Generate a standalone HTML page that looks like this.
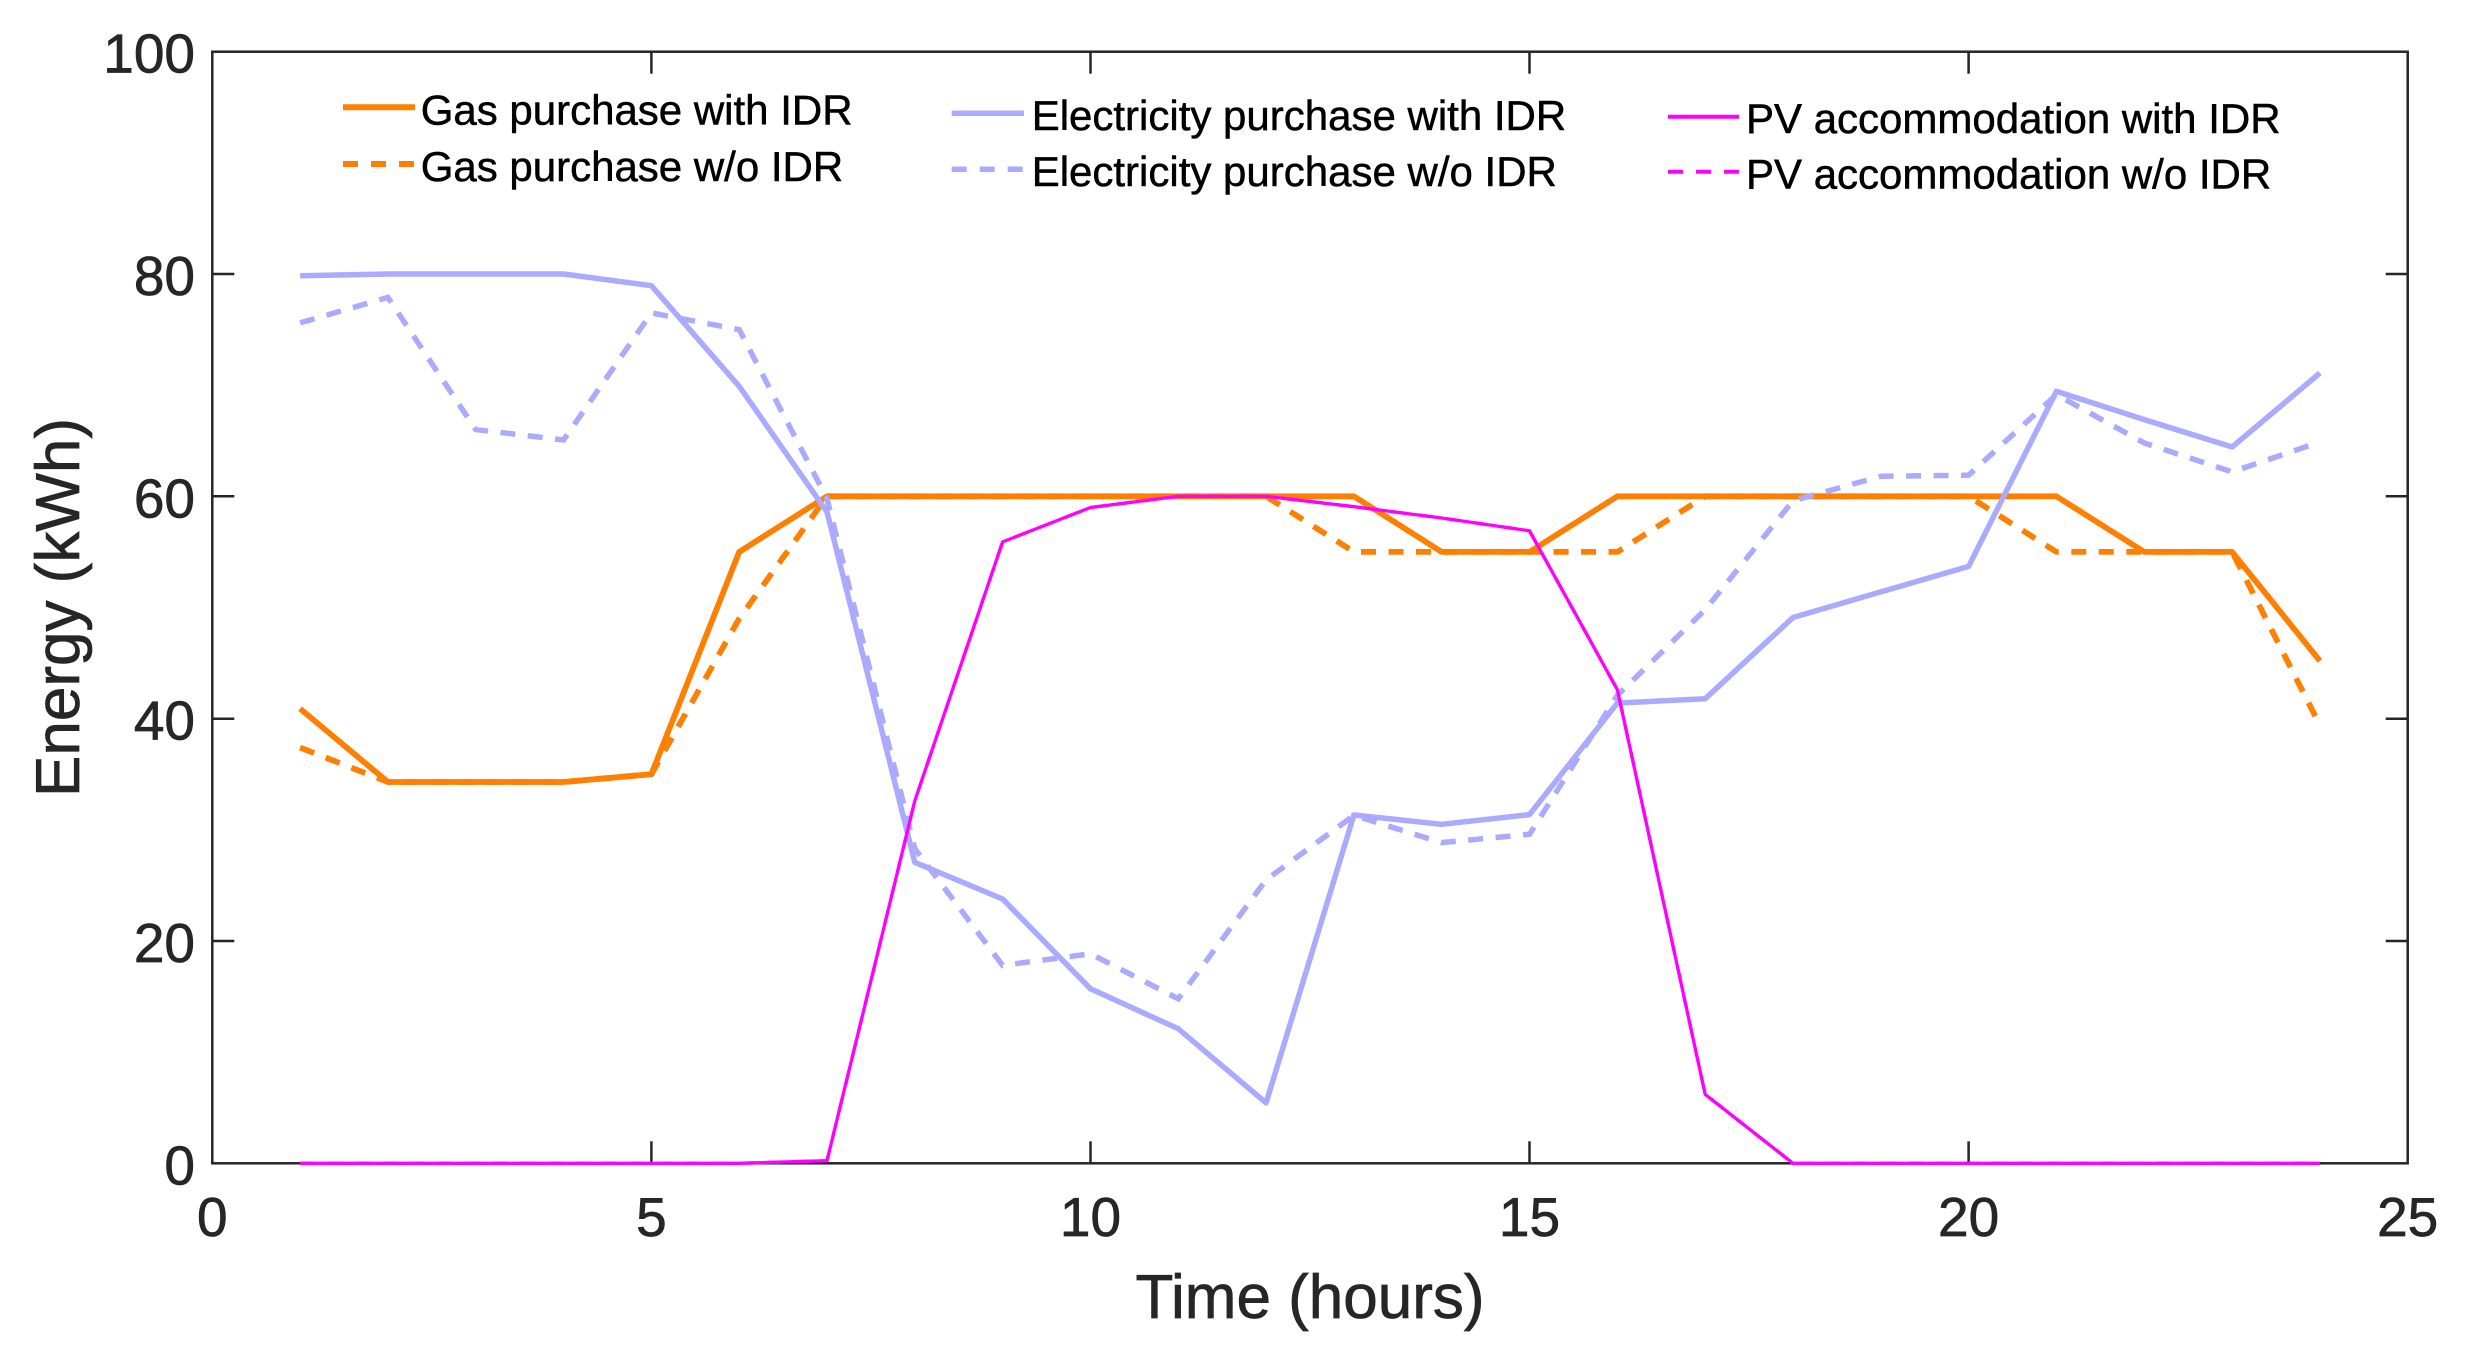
<!DOCTYPE html>
<html>
<head>
<meta charset="utf-8">
<style>
  html, body { margin: 0; padding: 0; background: #ffffff; }
  svg { display: block; }
  text { font-family: "Liberation Sans", Arial, sans-serif; }
</style>
</head>
<body>
<svg width="2467" height="1348" viewBox="0 0 2467 1348" xmlns="http://www.w3.org/2000/svg">
  <rect x="0" y="0" width="2467" height="1348" fill="#ffffff"/>

  <!-- Axes box -->
  <rect x="212.3" y="51.7" width="2195.4" height="1111.6" fill="none" stroke="#262626" stroke-width="2.5"/>

  <!-- Ticks -->
  <g stroke="#262626" stroke-width="2.5">
    <line x1="212.3" y1="941.0" x2="234.3" y2="941.0"/>
    <line x1="212.3" y1="718.7" x2="234.3" y2="718.7"/>
    <line x1="212.3" y1="496.3" x2="234.3" y2="496.3"/>
    <line x1="212.3" y1="274.0" x2="234.3" y2="274.0"/>
    <line x1="2407.7" y1="941.0" x2="2385.7" y2="941.0"/>
    <line x1="2407.7" y1="718.7" x2="2385.7" y2="718.7"/>
    <line x1="2407.7" y1="496.3" x2="2385.7" y2="496.3"/>
    <line x1="2407.7" y1="274.0" x2="2385.7" y2="274.0"/>
    <line x1="651.4" y1="1163.3" x2="651.4" y2="1141.3"/>
    <line x1="1090.5" y1="1163.3" x2="1090.5" y2="1141.3"/>
    <line x1="1529.5" y1="1163.3" x2="1529.5" y2="1141.3"/>
    <line x1="1968.6" y1="1163.3" x2="1968.6" y2="1141.3"/>
    <line x1="651.4" y1="51.7" x2="651.4" y2="73.7"/>
    <line x1="1090.5" y1="51.7" x2="1090.5" y2="73.7"/>
    <line x1="1529.5" y1="51.7" x2="1529.5" y2="73.7"/>
    <line x1="1968.6" y1="51.7" x2="1968.6" y2="73.7"/>
  </g>

  <!-- Y tick labels -->
  <g fill="#262626" stroke="#262626" stroke-width="0.7" font-size="55" text-anchor="end">
    <text x="195" y="1184.3">0</text>
    <text x="195" y="962.0">20</text>
    <text x="195" y="739.7">40</text>
    <text x="195" y="517.3">60</text>
    <text x="195" y="295.0">80</text>
    <text x="195" y="72.7">100</text>
  </g>

  <!-- X tick labels -->
  <g fill="#262626" stroke="#262626" stroke-width="0.7" font-size="55" text-anchor="middle">
    <text x="212.3" y="1236">0</text>
    <text x="651.4" y="1236">5</text>
    <text x="1090.5" y="1236">10</text>
    <text x="1529.5" y="1236">15</text>
    <text x="1968.6" y="1236">20</text>
    <text x="2407.7" y="1236">25</text>
  </g>

  <!-- Axis labels -->
  <text x="1310" y="1318" fill="#262626" stroke="#262626" stroke-width="0.7" font-size="62" text-anchor="middle">Time (hours)</text>
  <text transform="translate(79,607.5) rotate(-90)" fill="#262626" stroke="#262626" stroke-width="0.7" font-size="62" text-anchor="middle">Energy (kWh)</text>

  <!-- Series -->
  <g fill="none" stroke-linejoin="round">
    <polyline stroke="#FF8000" stroke-width="5.8"
      points="300.1,708.7 387.9,782.0 475.8,782.0 563.6,782.0 651.4,774.2 739.2,551.9 827.0,496.3 914.8,496.3 1002.6,496.3 1090.5,496.3 1178.3,496.3 1266.1,496.3 1353.9,496.3 1441.7,551.9 1529.5,551.9 1617.4,496.3 1705.2,496.3 1793.0,496.3 1880.8,496.3 1968.6,496.3 2056.4,496.3 2144.3,551.9 2232.1,551.9 2319.9,660.9"/>
    <polyline stroke="#FF8000" stroke-width="5.8" stroke-dasharray="15 12.5" stroke-linecap="butt" stroke-linejoin="miter"
      points="300.1,747.6 387.9,782.0 475.8,782.0 563.6,782.0 651.4,774.2 739.2,618.6 827.0,496.3 914.8,496.3 1002.6,496.3 1090.5,496.3 1178.3,496.3 1266.1,496.3 1353.9,551.9 1441.7,551.9 1529.5,551.9 1617.4,551.9 1705.2,496.3 1793.0,496.3 1880.8,496.3 1968.6,496.3 2056.4,551.9 2144.3,551.9 2232.1,551.9 2319.9,725.3"/>
    <polyline stroke="#AAAAFF" stroke-width="5.5"
      points="300.1,275.7 387.9,274.0 475.8,274.0 563.6,274.0 651.4,285.7 739.2,386.3 827.0,511.9 914.8,862.3 1002.6,899.0 1090.5,988.8 1178.3,1028.8 1266.1,1102.9 1353.9,815.0 1441.7,824.3 1529.5,814.6 1617.4,703.1 1705.2,698.7 1793.0,617.5 1880.8,591.9 1968.6,566.4 2056.4,391.3 2144.3,419.6 2232.1,447.0 2319.9,373.0"/>
    <polyline stroke="#AAAAFF" stroke-width="5.5" stroke-dasharray="15 12.5" stroke-linecap="butt" stroke-linejoin="miter"
      points="300.1,322.9 387.9,297.4 475.8,429.6 563.6,440.0 651.4,312.9 739.2,329.6 827.0,498.6 914.8,848.7 1002.6,965.4 1090.5,953.8 1178.3,998.8 1266.1,879.8 1353.9,815.4 1441.7,842.6 1529.5,834.3 1617.4,695.3 1705.2,609.7 1793.0,500.8 1880.8,476.3 1968.6,475.2 2056.4,394.6 2144.3,443.0 2232.1,471.9 2319.9,441.9"/>
    <polyline stroke="#FF00FF" stroke-width="3.3" stroke-dasharray="15 12.5"
      points="300.1,1163.3 387.9,1163.3 475.8,1163.3 563.6,1163.3 651.4,1163.3 739.2,1163.3 827.0,1160.7 914.8,800.9 1002.6,541.9 1090.5,507.5 1178.3,496.3 1266.1,496.3 1353.9,506.7 1441.7,518.0 1529.5,530.8 1617.4,689.8 1705.2,1094.4 1793.0,1163.3 1880.8,1163.3 1968.6,1163.3 2056.4,1163.3 2144.3,1163.3 2232.1,1163.3 2319.9,1163.3"/>
    <polyline stroke="#FF00FF" stroke-width="3.3"
      points="300.1,1163.3 387.9,1163.3 475.8,1163.3 563.6,1163.3 651.4,1163.3 739.2,1163.3 827.0,1160.7 914.8,800.9 1002.6,541.9 1090.5,507.5 1178.3,496.3 1266.1,496.3 1353.9,506.7 1441.7,518.0 1529.5,530.8 1617.4,689.8 1705.2,1094.4 1793.0,1163.3 1880.8,1163.3 1968.6,1163.3 2056.4,1163.3 2144.3,1163.3 2232.1,1163.3 2319.9,1163.3"/>
  </g>

  <!-- Legend -->
  <g fill="none">
    <line x1="343" y1="107.3" x2="415" y2="107.3" stroke="#FF8000" stroke-width="6"/>
    <line x1="343" y1="164" x2="415" y2="164" stroke="#FF8000" stroke-width="6" stroke-dasharray="15 13"/>
    <line x1="951.7" y1="113.3" x2="1024" y2="113.3" stroke="#AAAAFF" stroke-width="5.5"/>
    <line x1="951.7" y1="169.3" x2="1024" y2="169.3" stroke="#AAAAFF" stroke-width="5.5" stroke-dasharray="15 13"/>
    <line x1="1668" y1="116.7" x2="1739" y2="116.7" stroke="#FF00FF" stroke-width="4"/>
    <line x1="1668" y1="171.7" x2="1739" y2="171.7" stroke="#FF00FF" stroke-width="4" stroke-dasharray="15 13"/>
  </g>
  <g fill="#000000" stroke="#000000" stroke-width="0.5" font-size="42">
    <text x="420.7" y="124.5">Gas purchase with IDR</text>
    <text x="420.7" y="181">Gas purchase w/o IDR</text>
    <text x="1031.7" y="130">Electricity purchase with IDR</text>
    <text x="1031.7" y="186">Electricity purchase w/o IDR</text>
    <text x="1746" y="133">PV accommodation with IDR</text>
    <text x="1746" y="188.5">PV accommodation w/o IDR</text>
  </g>
</svg>
</body>
</html>
